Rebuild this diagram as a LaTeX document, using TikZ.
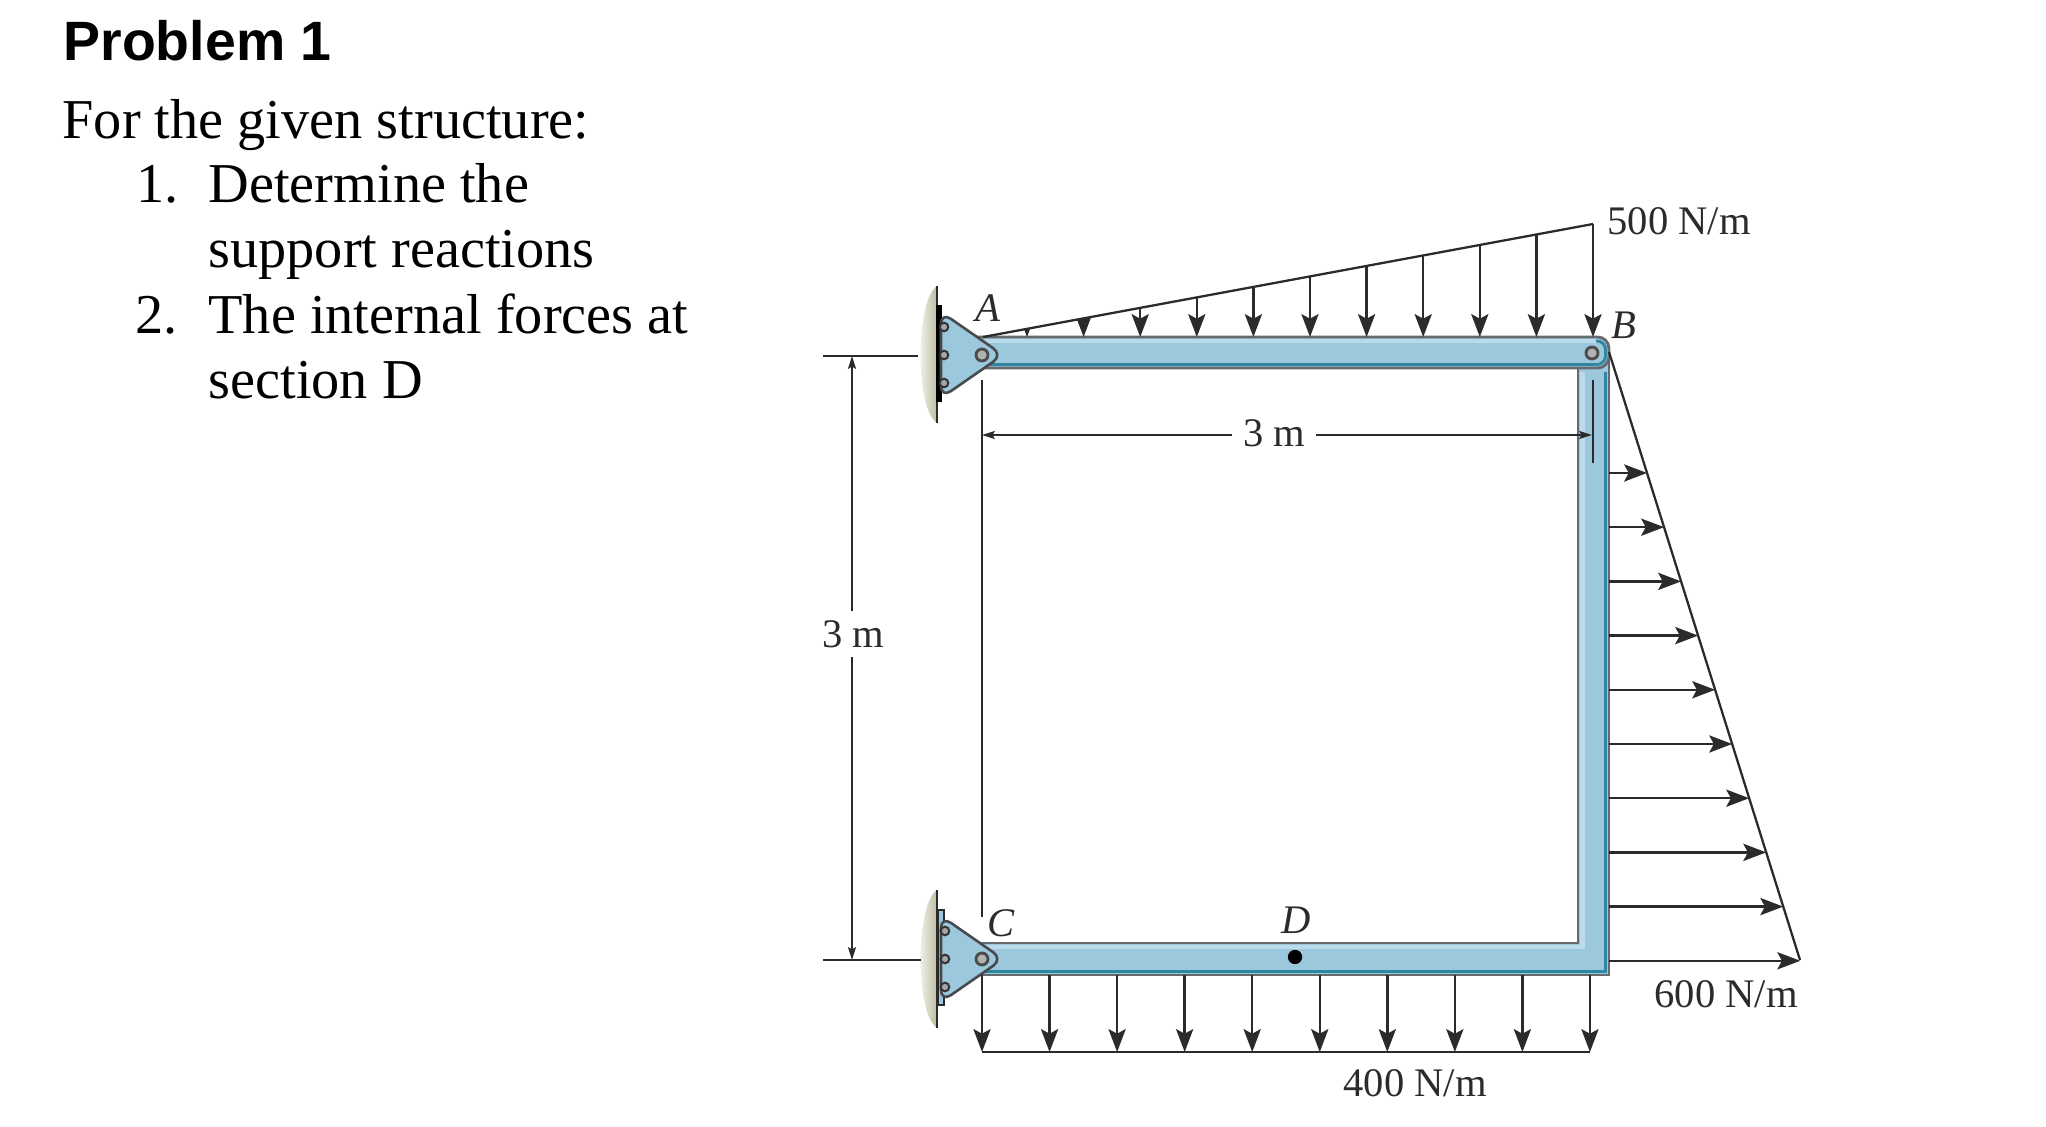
\documentclass[tikz,border=0pt]{standalone}
\usepackage{fontspec}
\setmainfont{Liberation Serif}
\newfontfamily\headfont{Liberation Sans}
\usepackage{color}
\usetikzlibrary{arrows.meta, calc}
\definecolor{beamblue}{HTML}{9CC8DE}
\definecolor{beamlight}{HTML}{BBDBEA}
\definecolor{beamdark}{HTML}{2F86A0}
\definecolor{edgegray}{HTML}{666A6E}
\definecolor{inkgray}{HTML}{2B2B2B}
\definecolor{wallshade}{HTML}{BDBDA0}
\tikzstyle{heading} = [anchor=base west, inner sep=0pt, font=\headfont\fontsize{19.4}{20}\selectfont\bfseries]
\tikzstyle{body} = [anchor=base west, inner sep=0pt, font=\fontsize{19.7}{22}\selectfont]
\tikzstyle{quantity} = [inner sep=0pt, text=inkgray, font=\fontsize{14.2}{16}\selectfont]
\tikzstyle{point} = [inner sep=0pt, text=inkgray, font=\fontsize{14.2}{16}\selectfont\itshape]
\tikzstyle{dimlabel} = [quantity, fill=white, inner xsep=3.8pt, inner ysep=3pt]
\tikzstyle{pin} = [circle, draw=black!70, fill=gray!60, line width=1pt, inner sep=0pt, minimum size=4.2pt]
\tikzstyle{bolt} = [circle, draw=black!80, fill=gray!70, line width=0.7pt, inner sep=0pt, minimum size=3pt]
\tikzstyle{member} = [fill=beamblue, draw=edgegray, line width=1pt]
\tikzstyle{gusset} = [fill=beamblue, draw=edgegray!70!black, line width=0.9pt, rounded corners=4.2pt]
\tikzstyle{thin} = [draw=inkgray, line width=0.8pt]
\tikzstyle{load} = [draw=inkgray, line width=0.85pt, -{Stealth[length=8pt, width=6pt, inset=1.6pt]}]
\tikzstyle{dim} = [draw=inkgray, line width=0.65pt, -{Stealth[length=4.5pt, width=2.8pt, inset=0.8pt]}]

\begin{document}
\begin{tikzpicture}[x=0.35pt, y=-0.35pt]
    \useasboundingbox (0,0) rectangle (2046,1127);
    % Text
    \node [heading] (title) at (63,61) {Problem 1};
    \node [body] (intro) at (62,139) {For the given structure:};
    \node [body] (num1) at (136,202.5) {1.};
    \node [body] (item1) at (208,202.5) {Determine the};
    \node [body] (item1b) at (208,268) {support reactions};
    \node [body] (num2) at (135,333.5) {2.};
    \node [body] (item2) at (208,333.5) {The internal forces at};
    \node [body] (item2b) at (208,398.5) {section D};
    % Walls
    \shade [left color=white, right color=wallshade] (937,286) .. controls (915,300) and (915,410) .. (937,423) -- cycle;
    \shade [left color=white, right color=wallshade] (937,890) .. controls (915,904) and (915,1014) .. (937,1028) -- cycle;
    \path [thin] (937,286) -- (937,423);
    \path [thin] (937,890) -- (937,1028);
    \fill [black] (936,305) rectangle (942,402);
    \draw [fill=beamblue, draw=inkgray, line width=0.7pt] (938,910) rectangle (944,1005);
    % Frame
    \path [member] (982,943) -- (1578,943) -- (1578,360) -- (1609,360) -- (1609,975) -- (982,975) -- cycle;
    \draw [beamlight, line width=1.5pt] (982,947) -- (1582.5,947) -- (1582.5,372);
    \draw [beamdark, line width=1pt] (982,971.5) -- (1605.5,971.5) -- (1605.5,372);
    \path [member] (975,337) [rounded corners=4pt] -- (1609,337) -- (1609,368) [sharp corners] -- (975,368) -- cycle;
    \draw [beamlight, line width=1.2pt] (985,341) -- (1597,341);
    \draw [beamdark, line width=1pt] (985,364.5) -- (1598,364.5) [rounded corners=3pt] -- (1605.5,364.5) -- (1605.5,341) -- (1596,341);
    % Supports
    \path [gusset] (941,312) -- (1003,355) -- (941,398) -- cycle;
    \path [gusset] (941,916) -- (1003,959) -- (941,1002) -- cycle;
    \node [bolt] (a1) at (944,327) {};
    \node [bolt] (a2) at (944,355) {};
    \node [bolt] (a3) at (944,383) {};
    \node [bolt] (c1) at (945,931) {};
    \node [bolt] (c2) at (945,959) {};
    \node [bolt] (c3) at (945,987) {};
    \node [pin] (pinA) at (982,355) {};
    \node [pin] (pinB) at (1592,353) {};
    \node [pin] (pinC) at (982,959) {};
    % Labels
    \node [point] (A) at (988,308) {A};
    \node [point] (B) at (1624,325) {B};
    \node [point] (C) at (1001,923) {C};
    \node [point] (D) at (1296,920) {D};
    \node [circle, fill=black, inner sep=0pt, minimum size=5pt] (secD) at (1295,957) {};
    \node [quantity] (q500) at (1679,221) {500 N/m};
    \node [quantity] (q600) at (1726,994) {600 N/m};
    \node [quantity] (q400) at (1415,1083) {400 N/m};
    % Top load
    \coordinate (topL) at (983,337);
    \coordinate (topR) at (1593,224);
    \coordinate (topB) at (1593,337);
    \begin{scope}
        \clip (topL) -- (topR) -- (1610,224) -- (1610,337) -- cycle;
        \foreach \k in {0,...,10} {
            \pgfmathsetmacro{\px}{1027+56.6*\k}
            \pgfmathsetmacro{\py}{337-(\px-983)*0.18525}
            \coordinate (t\k) at (\px,\py);
            \coordinate (u\k) at (\px,337);
            \path [load] (t\k) -- (u\k);
        }
    \end{scope}
    \path [thin] (topL) -- (topR);
    % Right load
    \coordinate (rightT) at (1609,352);
    \coordinate (rightB) at (1800,960);
    \foreach \k in {0,...,9} {
        \pgfmathsetmacro{\py}{473+54.2*\k}
        \pgfmathsetmacro{\px}{1609+(\py-352)*0.31414}
        \coordinate (r\k) at (1609,\py);
        \coordinate (s\k) at (\px,\py);
        \path [load] (r\k) -- (s\k);
    }
    \path [thin] (rightT) -- (rightB);
    % Bottom load
    \coordinate (botL) at (982,1052);
    \coordinate (botR) at (1590,1052);
    \foreach \k in {0,...,9} {
        \pgfmathsetmacro{\px}{982+67.55*\k}
        \coordinate (b\k) at (\px,975);
        \coordinate (c\k) at (\px,1052);
        \path [load] (b\k) -- (c\k);
    }
    \path [thin] (botL) -- (botR);
    % Dimensions
    \coordinate (extA1) at (823,356);
    \coordinate (extA2) at (918,356);
    \coordinate (extC1) at (823,960);
    \coordinate (extC2) at (921,960);
    \coordinate (dimT) at (852,356);
    \coordinate (dimB) at (852,960);
    \path [thin] (extA1) -- (extA2);
    \path [thin] (extC1) -- (extC2);
    \node [dimlabel] (dimV) at (853,634) {3 m};
    \path [dim] (dimV.north -| dimT) -- (dimT);
    \path [dim] (dimV.south -| dimB) -- (dimB);
    \coordinate (extL1) at (982,380);
    \coordinate (extL2) at (982,917);
    \coordinate (tickT) at (1593,380);
    \coordinate (tickB) at (1593,463);
    \coordinate (dimL) at (982,435);
    \coordinate (dimR) at (1592,435);
    \path [thin] (extL1) -- (extL2);
    \path [thin] (tickT) -- (tickB);
    \node [dimlabel] (dimH) at (1274,433.5) {3 m};
    \path [dim] (dimH.west |- dimL) -- (dimL);
    \path [dim] (dimH.east |- dimR) -- (dimR);
\end{tikzpicture}
\end{document}
